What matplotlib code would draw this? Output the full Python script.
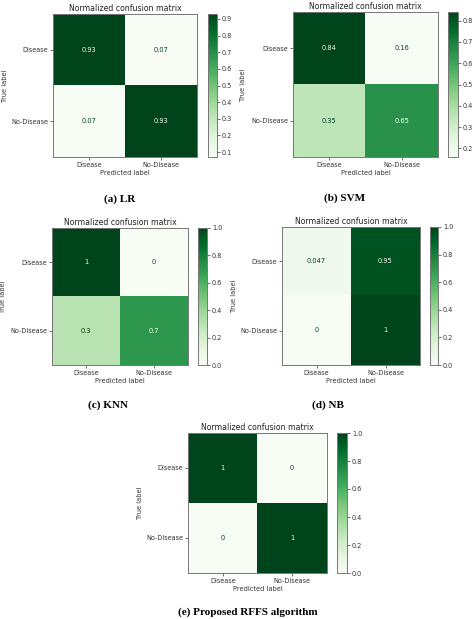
import numpy as np
import matplotlib
matplotlib.use("Agg")
import matplotlib.pyplot as plt

classes = ["Disease", "No-Disease"]

lr = [[0.93, 0.07], [0.07, 0.93]]
svm = [[0.84, 0.16], [0.35, 0.65]]
knn = [[1, 0], [0.3, 0.7]]
nb = [[0.047, 0.95], [0, 1]]
rffs = [[1, 0], [0, 1]]

captions = ["(a) LR", "(b) SVM", "(c) KNN", "(d) NB", "(e) Proposed RFFS algorithm"]

W, H = 474, 619
fig = plt.figure(figsize=(W / 100, H / 100), dpi=100)
fig.patch.set_facecolor("white")

def px_axes(x0, y0, x1, y1):
    # pixel box (top-left origin) -> figure coords
    return fig.add_axes([x0 / W, 1 - y1 / H, (x1 - x0) / W, (y1 - y0) / H])

def draw_cm(cm, box, cbox, cap, cap_xy, ylab_x):
    cm = np.array(cm, dtype=float)
    ax = px_axes(*box)
    cmap = plt.get_cmap("Greens")
    im = ax.imshow(cm, interpolation="nearest", cmap=cmap, aspect="auto")
    thresh = (cm.max() + cm.min()) / 2.0
    for i in range(2):
        for j in range(2):
            col = cmap(0.0) if cm[i, j] >= thresh else cmap(1.0)
            ax.text(j, i, format(cm[i, j], ".2g"), ha="center", va="center",
                    color=col, fontsize=4.8)
    ax.set_xticks([0, 1])
    ax.set_yticks([0, 1])
    ax.set_xticklabels(classes)
    ax.set_yticklabels(classes)
    ax.tick_params(labelsize=4.7, length=2, width=0.5, pad=1.5, colors="#333333")
    ax.set_xlabel("Predicted label", fontsize=4.8, labelpad=1.5, color="#333333")
    ax.set_ylabel("True label", fontsize=4.8, color="#333333")
    # put the y label where it sits in the picture (right edge of rotated text)
    ax.yaxis.set_label_coords((ylab_x - box[0]) / (box[2] - box[0]), 0.5)
    ax.set_title("Normalized confusion matrix", fontsize=5.6, pad=2, color="#222222")
    for s in ax.spines.values():
        s.set_color("#777777")
        s.set_linewidth(0.7)
    cax = px_axes(*cbox)
    cb = fig.colorbar(im, cax=cax)
    cb.ax.tick_params(labelsize=4.7, length=2, width=0.5, pad=1.5, colors="#333333")
    cb.outline.set_edgecolor("#777777")
    cb.outline.set_linewidth(0.7)
    fig.text(cap_xy[0] / W, 1 - cap_xy[1] / H, cap, ha="center", va="center",
             fontsize=8, fontweight="bold", family="Liberation Serif")

draw_cm(lr, (53, 14, 197, 157), (208, 14, 217, 157), captions[0], (120, 199), 8)
draw_cm(svm, (293, 12, 438, 157), (448, 12, 458, 157), captions[1], (345, 198), 246)
draw_cm(knn, (52, 228, 188, 365), (198, 228, 207, 365), captions[2], (108, 405), 6)
draw_cm(nb, (282, 227, 420, 365), (430, 227, 438, 365), captions[3], (328, 405), 237)
draw_cm(rffs, (188, 433, 327, 573), (337, 433, 347, 573), captions[4], (248, 612), 143)

fig.savefig("out.png", dpi=100, facecolor="white")
